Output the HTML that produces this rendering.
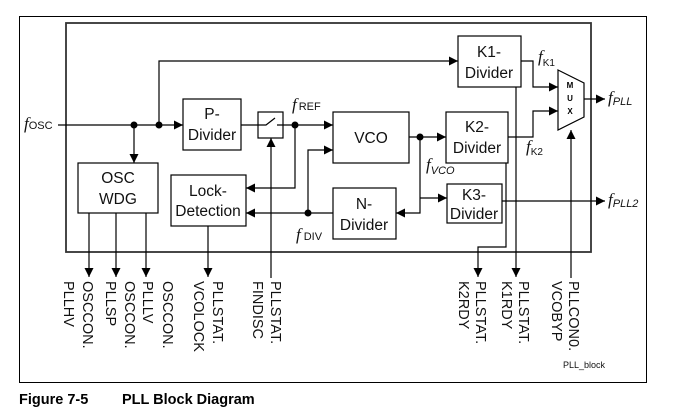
<!DOCTYPE html>
<html><head><meta charset="utf-8"><style>
html,body{margin:0;padding:0;background:#fff;}
svg{display:block;font-family:"Liberation Sans",Arial,sans-serif;}
</style></head><body>
<svg width="680" height="415" viewBox="0 0 680 415" xmlns="http://www.w3.org/2000/svg">
<defs>
<marker id="a" viewBox="0 0 10 10" refX="10" refY="5" markerWidth="9" markerHeight="9" markerUnits="userSpaceOnUse" orient="auto"><path d="M0,0L10,5L0,10z" fill="#000"/></marker>
</defs>
<g fill="none" stroke="#000" stroke-width="1.2">
<rect x="19.5" y="16.5" width="627" height="366" stroke-width="1"/>
<rect x="66" y="23" width="525" height="229" stroke="#333" stroke-width="1.8"/>
<rect x="458" y="36" width="63" height="51"/>
<rect x="183" y="99" width="58" height="51"/>
<rect x="258" y="112" width="25" height="26"/>
<rect x="333" y="112" width="76" height="51"/>
<rect x="78" y="163" width="80" height="50"/>
<rect x="171" y="175" width="75" height="51"/>
<rect x="333" y="188" width="63" height="51"/>
<rect x="446" y="112" width="62" height="51"/>
<rect x="447" y="184" width="55" height="39"/>
<path d="M558,70 L584,83 L584,117 L558,130 Z"/>
<path d="M258,125 L266,125 L275,118 M277,125 L283,125"/>
<path d="M58,125 L183,125" marker-end="url(#a)"/>
<path d="M134,125 L134,163" marker-end="url(#a)"/>
<path d="M159,125 L159,61 L458,61" marker-end="url(#a)"/>
<path d="M241,125 L258,125"/>
<path d="M283,125 L333,125" marker-end="url(#a)"/>
<path d="M295,125 L295,188 L246,188" marker-end="url(#a)"/>
<path d="M333,213 L246,213" marker-end="url(#a)"/>
<path d="M308,213 L308,150 L333,150" marker-end="url(#a)"/>
<path d="M271,278 L271,138" marker-end="url(#a)"/>
<path d="M409,137 L446,137" marker-end="url(#a)"/>
<path d="M420,137 L420,213 L396,213" marker-end="url(#a)"/>
<path d="M420,198 L447,198" marker-end="url(#a)"/>
<path d="M521,61 L533,61 L533,87 L558,87" marker-end="url(#a)"/>
<path d="M508,137 L533,137 L533,111 L558,111" marker-end="url(#a)"/>
<path d="M584,99 L605,99" marker-end="url(#a)"/>
<path d="M502,201 L605,201" marker-end="url(#a)"/>
<path d="M571,278 L571,130" marker-end="url(#a)"/>
<path d="M516,87 L516,277" marker-end="url(#a)"/>
<path d="M506,163 L506,247 L478,247 L478,277" marker-end="url(#a)"/>
<path d="M89,213 L89,277" marker-end="url(#a)"/>
<path d="M116,213 L116,277" marker-end="url(#a)"/>
<path d="M146,213 L146,277" marker-end="url(#a)"/>
<path d="M208,226 L208,277" marker-end="url(#a)"/>
</g>
<g fill="#000">
<circle cx="134" cy="125" r="3.5"/><circle cx="159" cy="125" r="3.5"/>
<circle cx="295" cy="125" r="3.5"/><circle cx="308" cy="213" r="3.5"/>
<circle cx="420" cy="137" r="3.5"/>
</g>
<g font-size="15.5" text-anchor="middle" fill="#111">
<text x="489" y="57">K1-</text><text x="489" y="78">Divider</text>
<text x="212" y="119">P-</text><text x="212" y="140">Divider</text>
<text x="371" y="143">VCO</text>
<text x="118" y="183">OSC</text><text x="118" y="204">WDG</text>
<text x="208" y="196">Lock-</text><text x="208" y="216">Detection</text>
<text x="364" y="209">N-</text><text x="364" y="230">Divider</text>
<text x="477" y="132">K2-</text><text x="477" y="153">Divider</text>
<text x="474" y="200">K3-</text><text x="474" y="219">Divider</text>
</g>
<g font-size="8" text-anchor="middle" font-weight="bold">
<text x="570" y="88">M</text><text x="570" y="101">U</text><text x="570" y="114">X</text>
</g>
<g font-size="12" fill="#111">
<text x="24" y="129"><tspan font-family="Liberation Serif,serif" font-style="italic" font-size="17">f</tspan><tspan font-size="11">OSC</tspan></text>
<text x="292" y="110"><tspan font-family="Liberation Serif,serif" font-style="italic" font-size="17">f</tspan><tspan font-size="11" dx="2">REF</tspan></text>
<text x="296" y="240"><tspan font-family="Liberation Serif,serif" font-style="italic" font-size="17">f</tspan><tspan font-size="11" dx="3">DIV</tspan></text>
<text x="426" y="170"><tspan font-family="Liberation Serif,serif" font-style="italic" font-size="17">f</tspan><tspan font-size="11" font-style="italic" dy="4">VCO</tspan></text>
<text x="538" y="62"><tspan font-family="Liberation Serif,serif" font-style="italic" font-size="17">f</tspan><tspan font-size="10" dy="4">K1</tspan></text>
<text x="526" y="152"><tspan font-family="Liberation Serif,serif" font-style="italic" font-size="17">f</tspan><tspan font-size="10" dy="3">K2</tspan></text>
<text x="608" y="103"><tspan font-family="Liberation Serif,serif" font-style="italic" font-size="17">f</tspan><tspan font-size="11" font-style="italic" dy="2">PLL</tspan></text>
<text x="608" y="205"><tspan font-family="Liberation Serif,serif" font-style="italic" font-size="17">f</tspan><tspan font-size="11" font-style="italic" dy="2">PLL2</tspan></text>
</g>
<g font-size="14.5" fill="#111">
<text transform="translate(83,281) rotate(90)">OSCCON.</text>
<text transform="translate(64,281) rotate(90)">PLLHV</text>
<text transform="translate(125,281) rotate(90)">OSCCON.</text>
<text transform="translate(106,281) rotate(90)">PLLSP</text>
<text transform="translate(163,281) rotate(90)">OSCCON.</text>
<text transform="translate(143,281) rotate(90)">PLLLV</text>
<text transform="translate(213,281) rotate(90)">PLLSTAT.</text>
<text transform="translate(194,281) rotate(90)">VCOLOCK</text>
<text transform="translate(271,281) rotate(90)">PLLSTAT.</text>
<text transform="translate(253,281) rotate(90)">FINDISC</text>
<text transform="translate(476,281) rotate(90)">PLLSTAT.</text>
<text transform="translate(459,281) rotate(90)">K2RDY</text>
<text transform="translate(519,281) rotate(90)">PLLSTAT.</text>
<text transform="translate(502,281) rotate(90)">K1RDY</text>
<text transform="translate(569,281) rotate(90)">PLLCON0.</text>
<text transform="translate(552,281) rotate(90)">VCOBYP</text>
</g>
<text x="563" y="368" font-size="9" fill="#111">PLL_block</text>
<text x="19" y="404" font-size="14.5" font-weight="bold">Figure 7-5</text>
<text x="122" y="404" font-size="14.5" font-weight="bold">PLL Block Diagram</text>
</svg>
</body></html>
